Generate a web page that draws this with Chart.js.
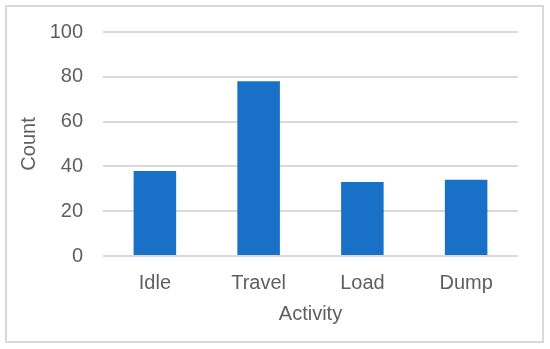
<!DOCTYPE html>
<html>
<head>
<meta charset="utf-8">
<script src="https://cdn.jsdelivr.net/npm/chart.js@4"></script>
<style>
  html, body { margin: 0; padding: 0; background: #fff; }
  #wrap { position: relative; width: 550px; height: 349px; }
  #frame { position: absolute; left: 5px; top: 5px; width: 535px; height: 334px; border: 2px solid #d9d9d9; }
  canvas { position: absolute; left: 0; top: 0; }
</style>
</head>
<body>
<div id="wrap">
  <div id="frame"></div>
  <canvas id="chart" width="550" height="349"></canvas>
</div>
<script>
const activities = ['Idle', 'Travel', 'Load', 'Dump'];
const counts = [38, 78, 33, 34];
const yTicks = [0, 20, 40, 60, 80, 100];

const textGray = '#5f5f5f';
const fontFam = '"Liberation Sans", Arial, sans-serif';

const ctx = document.getElementById('chart').getContext('2d');
const chart = new Chart(ctx, {
    type: 'bar',
    data: {
        labels: activities,
        datasets: [{
            label: 'Count',
            data: counts,
            backgroundColor: '#1871c6',
            borderWidth: 0,
            barPercentage: 1,
            categoryPercentage: 0.41
        }]
    },
    options: {
        responsive: false,
        animation: false,
        layout: { padding: { left: 0, right: 32, top: 31, bottom: 13 } },
        plugins: {
            legend: { display: false },
            tooltip: { enabled: false }
        },
        scales: {
            x: {
                grid: { display: false, drawTicks: false },
                border: { display: false },
                ticks: { color: textGray, font: { family: fontFam, size: 20 }, padding: 15 },
                title: {
                    display: true,
                    text: 'Activity',
                    color: textGray,
                    font: { family: fontFam, size: 20 },
                    padding: { top: 0, bottom: 10 }
                },
                afterFit: function (axis) { axis.height = 80; }
            },
            y: {
                min: 0,
                max: 100,
                afterBuildTicks: function (axis) { axis.ticks = yTicks.map(v => ({ value: v })); },
                grid: { color: '#d9d9d9', lineWidth: 2, drawTicks: false },
                border: { display: false },
                ticks: { color: textGray, font: { family: fontFam, size: 20 }, padding: 20 },
                title: {
                    display: true,
                    text: 'Count',
                    color: textGray,
                    font: { family: fontFam, size: 20 },
                    padding: { top: 17, bottom: 0 }
                },
                afterFit: function (axis) { axis.width = 103; }
            }
        }
    }
});
</script>
</body>
</html>
